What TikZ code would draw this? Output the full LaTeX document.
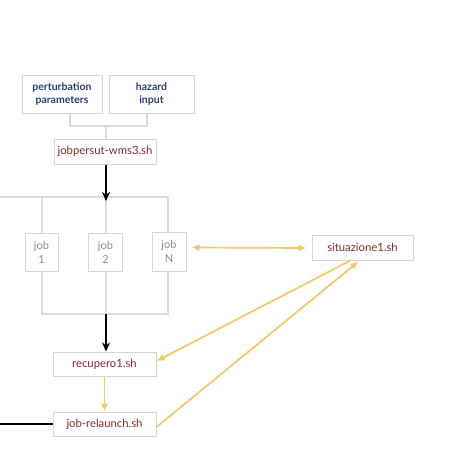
\documentclass[tikz,border=0pt]{standalone}
\usepackage{fontspec}
\setmainfont{Lato}
\usetikzlibrary{arrows.meta,calc}
\definecolor{navy}{HTML}{2E3D7C}
\definecolor{maroon}{HTML}{852A2E}
\definecolor{jobgray}{HTML}{8C8C8C}
\definecolor{boxgray}{HTML}{D6D6D6}
\definecolor{linegray}{HTML}{DCDCDC}
\definecolor{amber}{HTML}{F5C66A}
\tikzset{
  box/.style={draw=boxgray, line width=1pt, fill=white, inner sep=0pt, align=center},
  inbox/.style={box, font=\fontsize{10.5}{12.5}\selectfont\bfseries, text=navy},
  script/.style={box, font=\fontsize{11.3}{13}\selectfont, text=maroon},
  jobbox/.style={box, font=\fontsize{11}{14}\selectfont, text=jobgray},
  thin/.style={draw=linegray, line width=1.1pt},
  flow/.style={draw=black, line width=2pt, -{Stealth[length=9pt,width=8pt]}},
  blackline/.style={draw=black, line width=1.6pt},
  yarrow/.style={draw=amber, line width=1.7pt, -{Latex[length=8pt,width=7pt]}},
  ydouble/.style={draw=amber, line width=1.7pt, {Latex[length=8pt,width=7pt]}-{Latex[length=8pt,width=7pt]}},
}
\begin{document}
\begin{tikzpicture}[x=1pt,y=-1pt]
\useasboundingbox (0,0) rectangle (474,474);
\node[inbox, minimum width=80pt, minimum height=38pt] (pert) at (62,94) {perturbation\\parameters};
\node[inbox, minimum width=85pt, minimum height=38pt] (haz) at (151.5,94) {hazard\\input};
\node[script, minimum width=102pt, minimum height=25pt] (jobp) at (105,151.5) {jobpersut-wms3.sh};
\node[jobbox, minimum width=33pt, minimum height=38pt] (j1) at (41.5,252) {job\\1};
\node[jobbox, minimum width=34pt, minimum height=38pt] (j2) at (105.5,252) {job\\2};
\node[jobbox, minimum width=34pt, minimum height=39pt] (jN) at (169,251.5) {job\\N};
\node[script, minimum width=101pt, minimum height=25pt] (situ) at (362.5,247.5) {situazione1.sh};
\node[script, minimum width=103pt, minimum height=24pt] (recup) at (104.5,364) {recupero1.sh};
\node[script, minimum width=103pt, minimum height=24pt] (rel) at (104.5,424) {job-relaunch.sh};
\coordinate (merge) at (106,126);
\coordinate (split) at (106,197);
\coordinate (leftA) at (0,197);
\coordinate (join) at (106,314);
\coordinate (leftB) at (0,424);
% top merge
\draw[thin] (70,113) |- (merge) -| (147,113);
\draw[thin] (merge) -- (jobp.north -| merge);
% split
\draw[thin] (leftA) -- (168,197);
\draw[thin] (42,197) -- (42,233);
\draw[thin] (split) -- (106,233);
\draw[thin] (168,197) -- (168,232);
\draw[thin] (42,271) -- (42,314) -- (168,314) -- (168,271);
\draw[thin] (106,271) -- (join);
\draw[flow] (jobp.south -| split) -- (106,201);
\draw[flow] (join) -- (recup.north -| join);
\draw[yarrow] (recup.south) -- (rel.north);
\draw[blackline] (leftB) -- (rel.west);
\draw[ydouble] ($(jN.east)+(5,-4)$) -- ($(situ.west)+(-5,0.5)$);
\draw[yarrow] ($(situ.south)+(-12,0)$) -- ($(recup.east)+(0,-3)$);
\draw[yarrow] ($(rel.east)+(0,3)$) -- ($(situ.south)+(-4,1)$);
\end{tikzpicture}
\end{document}
